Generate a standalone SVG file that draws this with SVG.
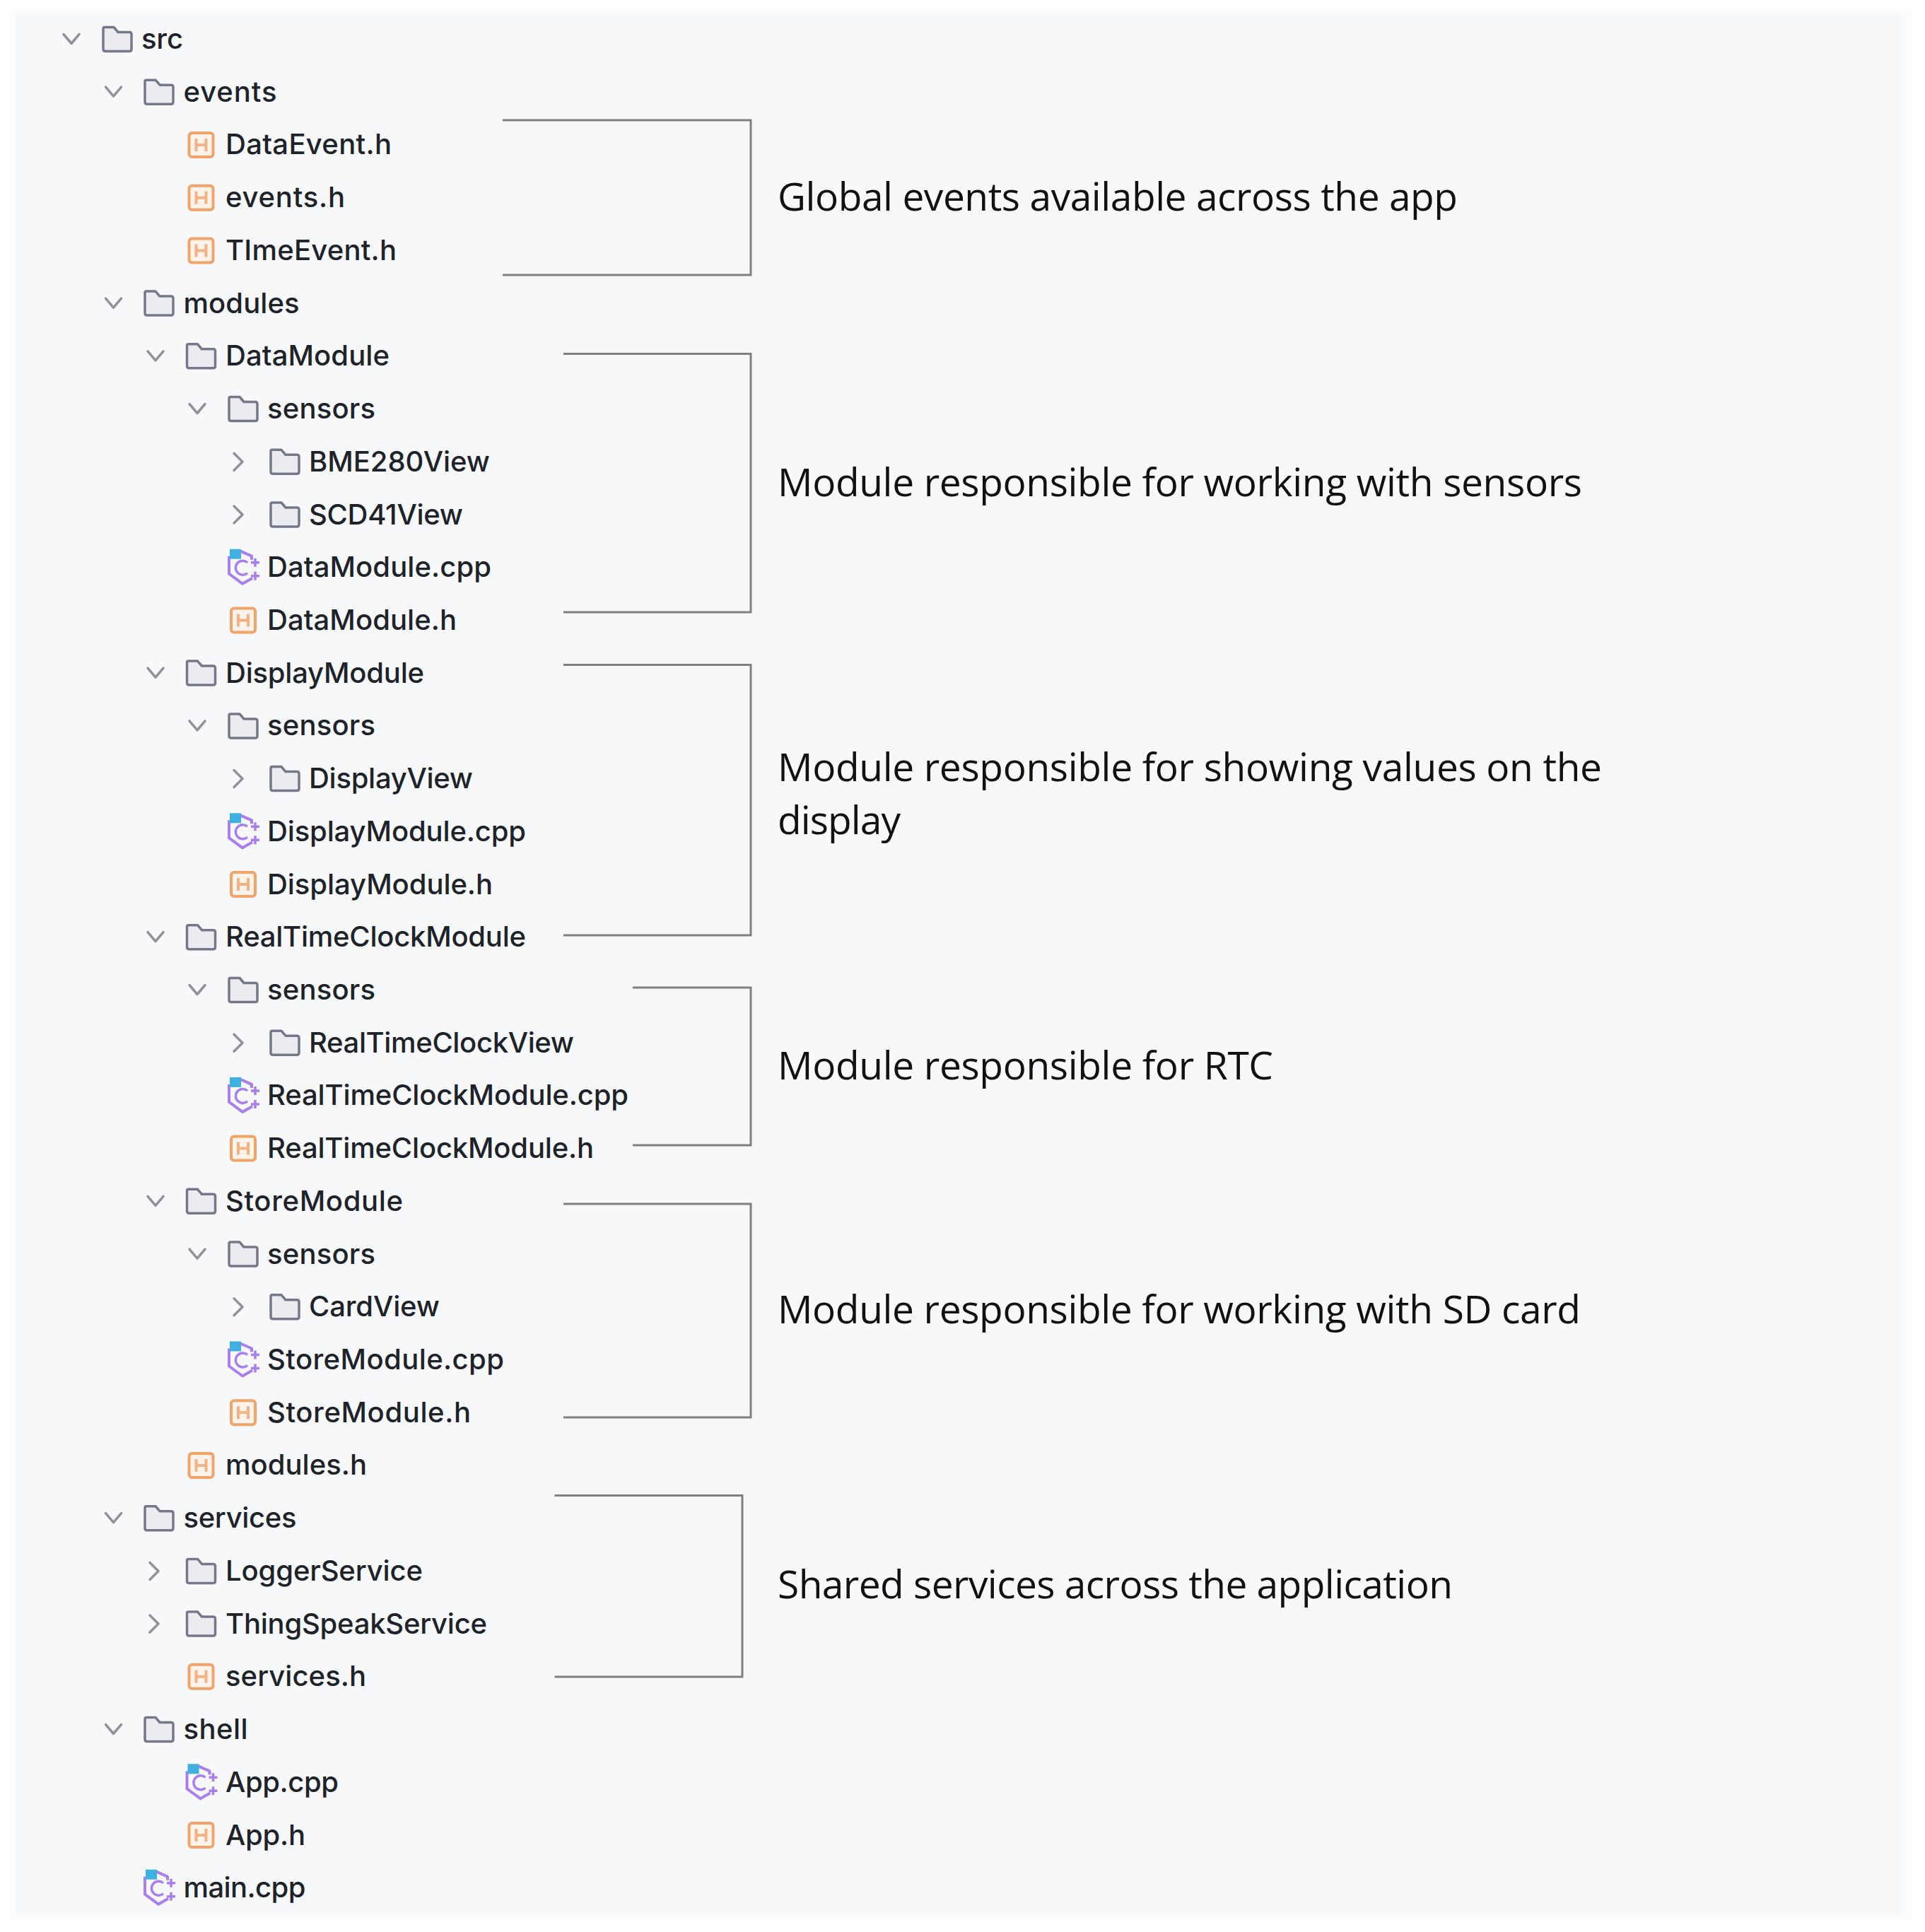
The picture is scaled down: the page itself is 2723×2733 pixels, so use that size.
<svg xmlns="http://www.w3.org/2000/svg" width="2723" height="2733" viewBox="0 0 2723 2733">
<style>
.t{font-family:"Inter","Liberation Sans",sans-serif;font-size:40px;font-weight:500;fill:#1e2229}
.a{font-family:"Open Sans","Liberation Sans",sans-serif;font-size:55px;fill:#111}
.ch{fill:none;stroke:#8f929b;stroke-width:3.5;stroke-linecap:round;stroke-linejoin:round}
.br{fill:none;stroke:#808080;stroke-width:3}
</style>
<defs>
<g id="fold"><path d="M-20 -15Q-20 -17 -18 -17H-5L1 -10H17Q20 -10 20 -7V14Q20 17 17 17H-17Q-20 17 -20 14Z" fill="#ebecf0" stroke="#75788a" stroke-width="3.5" stroke-linejoin="round"/></g>
<g id="open"><path class="ch" d="M-11 -7L0 6L11 -7"/></g>
<g id="closed"><path class="ch" d="M-6 -12L6 0L-6 12"/></g>
<g id="hf"><rect x="-17" y="-17" width="34" height="34" rx="4" fill="#fdf3ea" stroke="#f2a468" stroke-width="4"/><path d="M-7 -9V9M7 -9V9M-7 0H7" fill="none" stroke="#f4b183" stroke-width="4"/></g>
<g id="cpp"><path d="M-4 -23L12 -16V-11M-20 -16V9L-1 23L13 15" fill="none" stroke="#a97ff0" stroke-width="4" stroke-linejoin="round"/><path d="M6 -7A10 10 0 1 0 6 8" fill="none" stroke="#a97ff0" stroke-width="3.5"/><path d="M17 -13V-1M11 -7H23M17 6V18M11 12H23" fill="none" stroke="#a97ff0" stroke-width="3.5"/><rect x="-19" y="-26" width="16" height="14" fill="#3fb1e0"/></g>
</defs>
<rect width="2723" height="2733" fill="#ffffff"/>
<rect x="14" y="13" width="2690" height="2702" fill="#fcfcfd"/>
<rect x="22" y="21" width="2673" height="2686" fill="#f7f8fa"/>
<g id="tree">
<g id="n0" transform="translate(0,55.5)"><use href="#open" x="101"/><use href="#fold" x="166"/><text class="t" x="200" y="13.5" textLength="59">src</text></g>
<g id="n1" transform="translate(0,130.2)"><use href="#open" x="160.5"/><use href="#fold" x="225"/><text class="t" x="259.5" y="13.5" textLength="132">events</text></g>
<g id="n2" transform="translate(0,204.9)"><use href="#hf" x="284.5"/><text class="t" x="319" y="13.5" textLength="235">DataEvent.h</text></g>
<g id="n3" transform="translate(0,279.7)"><use href="#hf" x="284.5"/><text class="t" x="319" y="13.5" textLength="169">events.h</text></g>
<g id="n4" transform="translate(0,354.4)"><use href="#hf" x="284.5"/><text class="t" x="319" y="13.5" textLength="242">TImeEvent.h</text></g>
<g id="n5" transform="translate(0,429.1)"><use href="#open" x="160.5"/><use href="#fold" x="225"/><text class="t" x="259.5" y="13.5" textLength="164">modules</text></g>
<g id="n6" transform="translate(0,503.8)"><use href="#open" x="220"/><use href="#fold" x="284.5"/><text class="t" x="319" y="13.5" textLength="232">DataModule</text></g>
<g id="n7" transform="translate(0,578.5)"><use href="#open" x="279"/><use href="#fold" x="344"/><text class="t" x="378" y="13.5" textLength="153">sensors</text></g>
<g id="n8" transform="translate(0,653.3)"><use href="#closed" x="337"/><use href="#fold" x="403"/><text class="t" x="437" y="13.5" textLength="256">BME280View</text></g>
<g id="n9" transform="translate(0,728)"><use href="#closed" x="337"/><use href="#fold" x="403"/><text class="t" x="437" y="13.5" textLength="218">SCD41View</text></g>
<g id="n10" transform="translate(0,802.7)"><use href="#cpp" x="344"/><text class="t" x="378" y="13.5" textLength="317">DataModule.cpp</text></g>
<g id="n11" transform="translate(0,877.4)"><use href="#hf" x="344"/><text class="t" x="378" y="13.5" textLength="268">DataModule.h</text></g>
<g id="n12" transform="translate(0,952.1)"><use href="#open" x="220"/><use href="#fold" x="284.5"/><text class="t" x="319" y="13.5" textLength="281">DisplayModule</text></g>
<g id="n13" transform="translate(0,1026.9)"><use href="#open" x="279"/><use href="#fold" x="344"/><text class="t" x="378" y="13.5" textLength="153">sensors</text></g>
<g id="n14" transform="translate(0,1101.6)"><use href="#closed" x="337"/><use href="#fold" x="403"/><text class="t" x="437" y="13.5" textLength="232">DisplayView</text></g>
<g id="n15" transform="translate(0,1176.3)"><use href="#cpp" x="344"/><text class="t" x="378" y="13.5" textLength="366">DisplayModule.cpp</text></g>
<g id="n16" transform="translate(0,1251)"><use href="#hf" x="344"/><text class="t" x="378" y="13.5" textLength="319">DisplayModule.h</text></g>
<g id="n17" transform="translate(0,1325.7)"><use href="#open" x="220"/><use href="#fold" x="284.5"/><text class="t" x="319" y="13.5" textLength="425">RealTimeClockModule</text></g>
<g id="n18" transform="translate(0,1400.5)"><use href="#open" x="279"/><use href="#fold" x="344"/><text class="t" x="378" y="13.5" textLength="153">sensors</text></g>
<g id="n19" transform="translate(0,1475.2)"><use href="#closed" x="337"/><use href="#fold" x="403"/><text class="t" x="437" y="13.5" textLength="375">RealTimeClockView</text></g>
<g id="n20" transform="translate(0,1549.9)"><use href="#cpp" x="344"/><text class="t" x="378" y="13.5" textLength="511">RealTimeClockModule.cpp</text></g>
<g id="n21" transform="translate(0,1624.6)"><use href="#hf" x="344"/><text class="t" x="378" y="13.5" textLength="462">RealTimeClockModule.h</text></g>
<g id="n22" transform="translate(0,1699.3)"><use href="#open" x="220"/><use href="#fold" x="284.5"/><text class="t" x="319" y="13.5" textLength="251">StoreModule</text></g>
<g id="n23" transform="translate(0,1774.1)"><use href="#open" x="279"/><use href="#fold" x="344"/><text class="t" x="378" y="13.5" textLength="153">sensors</text></g>
<g id="n24" transform="translate(0,1848.8)"><use href="#closed" x="337"/><use href="#fold" x="403"/><text class="t" x="437" y="13.5" textLength="185">CardView</text></g>
<g id="n25" transform="translate(0,1923.5)"><use href="#cpp" x="344"/><text class="t" x="378" y="13.5" textLength="335">StoreModule.cpp</text></g>
<g id="n26" transform="translate(0,1998.2)"><use href="#hf" x="344"/><text class="t" x="378" y="13.5" textLength="288">StoreModule.h</text></g>
<g id="n27" transform="translate(0,2072.9)"><use href="#hf" x="284.5"/><text class="t" x="319" y="13.5" textLength="200">modules.h</text></g>
<g id="n28" transform="translate(0,2147.7)"><use href="#open" x="160.5"/><use href="#fold" x="225"/><text class="t" x="259.5" y="13.5" textLength="160">services</text></g>
<g id="n29" transform="translate(0,2222.4)"><use href="#closed" x="218"/><use href="#fold" x="284.5"/><text class="t" x="319" y="13.5" textLength="279">LoggerService</text></g>
<g id="n30" transform="translate(0,2297.1)"><use href="#closed" x="218"/><use href="#fold" x="284.5"/><text class="t" x="319" y="13.5" textLength="370">ThingSpeakService</text></g>
<g id="n31" transform="translate(0,2371.8)"><use href="#hf" x="284.5"/><text class="t" x="319" y="13.5" textLength="199">services.h</text></g>
<g id="n32" transform="translate(0,2446.5)"><use href="#open" x="160.5"/><use href="#fold" x="225"/><text class="t" x="259.5" y="13.5" textLength="91">shell</text></g>
<g id="n33" transform="translate(0,2521.3)"><use href="#cpp" x="284.5"/><text class="t" x="319" y="13.5" textLength="160">App.cpp</text></g>
<g id="n34" transform="translate(0,2596)"><use href="#hf" x="284.5"/><text class="t" x="319" y="13.5" textLength="113">App.h</text></g>
<g id="n35" transform="translate(0,2670.7)"><use href="#cpp" x="225"/><text class="t" x="259.5" y="13.5" textLength="173">main.cpp</text></g>
</g>
<g id="connectors">
<path class="br" d="M711 170H1062V389H711"/>
<path class="br" d="M797 500.500H1062V866H797"/>
<path class="br" d="M797 940.500H1062V1323H797"/>
<path class="br" d="M895 1397H1062V1620H895"/>
<path class="br" d="M797 1703H1062V2005H797"/>
<path class="br" d="M784.500 2115.500H1050V2372H784.500"/>
</g>
<g id="annotations">
<text class="a" x="1100" y="298" textLength="962">Global events available across the app</text>
<text class="a" x="1100" y="702" textLength="1138">Module responsible for working with sensors</text>
<text class="a" x="1100" y="1105" textLength="1166">Module responsible for showing values on the</text>
<text class="a" x="1100" y="1180" textLength="174">display</text>
<text class="a" x="1100" y="1527" textLength="701">Module responsible for RTC</text>
<text class="a" x="1100" y="1872" textLength="1136">Module responsible for working with SD card</text>
<text class="a" x="1100" y="2261" textLength="955">Shared services across the application</text>
</g>
</svg>
